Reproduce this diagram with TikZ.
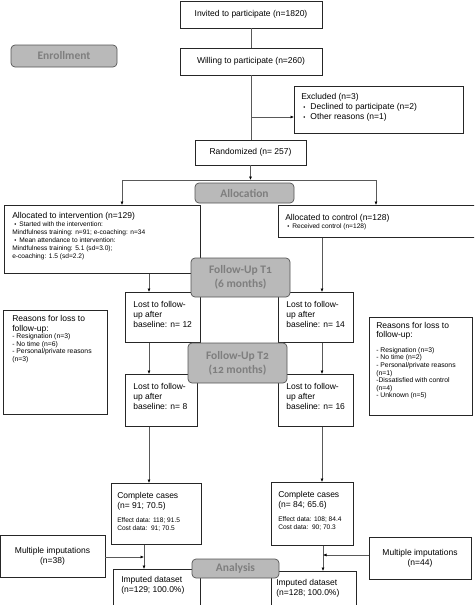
\documentclass[tikz,border=0pt]{standalone}
\usepackage{fontspec}
\setmainfont{Liberation Sans}
\newfontfamily\calfont{Carlito}[Numbers=OldStyle]
\usetikzlibrary{arrows.meta}
\definecolor{gfill}{HTML}{B9B9B9}
\definecolor{gtext}{HTML}{7E7E7E}
\definecolor{gline}{HTML}{555555}
\newcommand{\mainsz}{\fontsize{8.5}{10}\selectfont}
\newcommand{\headsz}{\fontsize{8.5}{9.2}\selectfont}
\newcommand{\smsz}{\fontsize{6.6}{8}\selectfont}
\newcommand{\listsz}{\fontsize{6.8}{7.6}\selectfont}
\newcommand{\bul}{{\fontsize{6}{6}\selectfont\textbullet}}
\newcommand{\cellbox}[5]{\begin{minipage}[c][#2pt][t]{#1pt}\vspace*{#4pt}\raggedright\leftskip=#3pt\relax #5\par\end{minipage}}
\begin{document}
\begin{tikzpicture}[x=1pt,y=-1pt,
  box/.style={draw=black!85, line width=0.6pt, fill=white, inner sep=0pt, anchor=north west},
  cbox/.style={draw=black!85, line width=0.6pt, fill=white, inner sep=0pt, align=center, font=\mainsz},
  gbox/.style={draw=gline, line width=0.7pt, fill=gfill, rounded corners=4pt, text=gtext,
     font=\calfont\bfseries\fontsize{11.5}{14}\selectfont, align=center, inner sep=0pt},
  conn/.style={draw=black!65, line width=0.6pt},
  arr/.style={conn, -{Latex[length=3.5pt,width=3pt,black]}}]
\clip (0,0) rectangle (474,605);
\useasboundingbox (0,0) rectangle (474,605);

% enrollment
\node[cbox, minimum width=142pt, minimum height=27pt] (inv) at (251,14.5) {Invited to participate (n=1820)};
\node[cbox, minimum width=142pt, minimum height=27pt] (will) at (251,61.5) {Willing to participate (n=260)};
\node[gbox, minimum width=106pt, minimum height=22pt] (enroll) at (64,56) {Enrollment};
\node[box] (excl) at (294,86) {\cellbox{169}{47}{7}{7}{\mainsz Excluded (n=3)\par
  \hspace*{2pt}\bul\hspace{5pt}Declined to participate (n=2)\par
  \hspace*{2pt}\bul\hspace{5pt}Other reasons (n=1)}};
\node[cbox, minimum width=111pt, minimum height=25pt] (rand) at (250.5,152.5) {Randomized (n= 257)};

% allocation
\node[box] (interv) at (4,205) {\cellbox{196}{68}{8}{7.5}{{\mainsz Allocated to intervention (n=129)\par}
  {\smsz \hspace*{2pt}\bul\hspace{3pt}Started with the intervention:\par
  Mindfulness training: n=91; e-coaching: n=34\par
  \hspace*{2pt}\bul\hspace{3pt}Mean attendance to intervention:\par
  Mindfulness training: 5.1 (sd=3.0);\par
  e-coaching: 1.5 (sd=2.2)\par}}};
\node[box] (ctrl) at (278,205) {\cellbox{197}{32}{7}{9.5}{{\mainsz Allocated to control (n=128)\par}
  {\smsz \hspace*{2pt}\bul\hspace{3pt}Received control (n=128)\par}}};
\node[gbox, minimum width=99pt, minimum height=20pt] (alloc) at (244.5,193) {Allocation};

% follow-up T1
\node[box] (lost1) at (125,292) {\cellbox{75}{50}{8}{9}{\mainsz Lost to follow-\par up after\par baseline: n= 12}};
\node[box] (lost2) at (278,292) {\cellbox{75}{50}{8}{9}{\mainsz Lost to follow-\par up after\par baseline: n= 14}};
\node[box] (reasL) at (3,310) {\cellbox{104}{104}{9}{5.5}{{\headsz Reasons for loss to\par follow-up:\par}
  {\listsz - Resignation (n=3)\par - No time (n=6)\par - Personal/private reasons\par (n=3)\par}}};
\node[box] (reasR) at (369,317) {\cellbox{103}{98}{7}{5}{{\headsz Reasons for loss to\par follow-up:\par}
  {\listsz\vspace*{7pt} - Resignation (n=3)\par - No time (n=2)\par - Personal/private reasons\par (n=1)\par
  -Dissatisfied with control\par (n=4)\par - Unknown (n=5)\par}}};
\node[gbox, minimum width=99pt, minimum height=39pt] (fu1) at (240.5,277.5) {Follow-Up T1\\(6 months)};

% follow-up T2
\node[box] (lost3) at (125,374) {\cellbox{72}{52}{8}{9}{\mainsz Lost to follow-\par up after\par baseline: n= 8}};
\node[box] (lost4) at (278,374) {\cellbox{75}{52}{8}{9}{\mainsz Lost to follow-\par up after\par baseline: n= 16}};
\node[gbox, minimum width=99pt, minimum height=40pt] (fu2) at (237.5,363) {Follow-Up T2\\(12 months)};

% analysis
\node[box] (comp1) at (111,483) {\cellbox{90}{61}{6}{9}{{\mainsz Complete cases\par (n= 91; 70.5)\par}
  {\smsz\vspace*{6pt}Effect data: 118; 91.5\par Cost data:\ \ 91; 70.5\par}}};
\node[box] (comp2) at (271,482) {\cellbox{82}{63}{7}{9.5}{{\mainsz Complete cases\par (n= 84; 65.6)\par}
  {\smsz\vspace*{6pt}Effect data: 108; 84.4\par Cost data:\ \ 90; 70.3\par}}};
\node[cbox, minimum width=105pt, minimum height=42pt] (multL) at (52.5,556) {Multiple imputations\\(n=38)};
\node[cbox, minimum width=102pt, minimum height=42pt] (multR) at (420,558) {Multiple imputations\\(n=44)};
\node[box] (imp1) at (113,569) {\cellbox{87}{45}{8}{7}{\mainsz Imputed dataset\par (n=129; 100.0\%)}};
\node[box] (imp2) at (271,571) {\cellbox{85}{45}{5}{8}{\mainsz Imputed dataset\par (n=128; 100.0\%)}};
\node[gbox, minimum width=87pt, minimum height=19pt] (analysis) at (235.5,568.5) {Analysis};

% coordinates
\coordinate (exj) at (251,117);
\coordinate (split) at (250.5,180);
\coordinate (brL) at (122,180);
\coordinate (brR) at (376,180);
\coordinate (colL) at (149,0);
\coordinate (colR) at (322,0);
\coordinate (mL) at (144,557);
\coordinate (mR) at (323,555);

% connectors
\draw[conn] (inv.south) -- (will.north);
\draw[conn] (will.south -| exj) -- (rand.north -| exj);
\draw[arr] (exj) -- (excl.west |- exj);
\draw[arr] (rand.south) -- (split);
\draw[conn] (brL) -- (brR);
\draw[arr] (brL) -- (interv.north -| brL);
\draw[arr] (brR) -- (ctrl.north -| brR);
\draw[arr] (interv.south -| colL) -- (lost1.north -| colL);
\draw[arr] (ctrl.south -| colR) -- (lost2.north -| colR);
\draw[arr] (lost1.south -| colL) -- (lost3.north -| colL);
\draw[arr] (lost2.south -| colR) -- (lost4.north -| colR);
\draw[arr] (lost3.south -| colL) -- (comp1.north -| colL);
\draw[arr] (lost4.south -| colR) -- (comp2.north -| colR);
\draw[arr] (comp1.south -| mL) -- (imp1.north -| mL);
\draw[arr] (multL.east |- mL) -- (mL);
\draw[arr] (comp2.south -| mR) -- (imp2.north -| mR);
\draw[arr] (multR.west |- mR) -- (mR);
\end{tikzpicture}
\end{document}
